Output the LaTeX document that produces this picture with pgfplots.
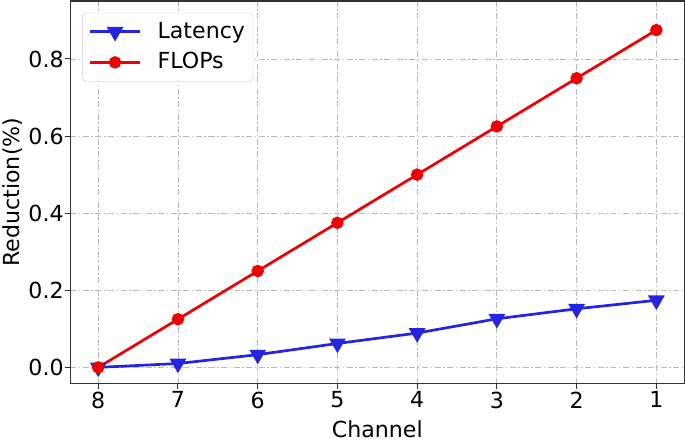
\documentclass[border=0pt]{standalone}
\usepackage{fontspec}
\setmainfont{DejaVu Sans}
\usepackage{pgfplots}
\pgfplotsset{compat=1.18}
\definecolor{mblue}{RGB}{36,36,226}
\definecolor{mred}{RGB}{240,0,0}
\begin{document}
\fontsize{22}{26}\selectfont
\begin{tikzpicture}
\begin{axis}[
  scale only axis,
  width=611pt, height=381pt,
  xmin=-0.35, xmax=7.35,
  ymin=-0.042, ymax=0.951,
  xtick={0,1,2,3,4,5,6,7},
  xticklabels={8,7,6,5,4,3,2,1},
  ytick={0,0.2,0.4,0.6,0.8},
  yticklabel style={/pgf/number format/.cd,fixed,fixed zerofill,precision=1,/tikz/.cd,inner xsep=1.5pt},
  /pgf/number format/assume math mode=true,
  tick style={black!80, line width=1pt},
  major tick length=5pt,
  tick align=outside,
  xtick pos=bottom, ytick pos=left,
  axis line style={black!80, line width=1.5pt},
  grid=major,
  major grid style={gray!55, line width=0.9pt, dash pattern=on 6pt off 2.5pt on 1.5pt off 2.5pt},
  xlabel={Channel},
  ylabel={Reduction(\%)},
  xticklabel style={inner ysep=3pt},
  xlabel style={inner ysep=4pt, yshift=-5pt},
  ylabel style={inner ysep=3pt, yshift=1pt},
  tick label style={font=\fontsize{22}{26}\selectfont},
  label style={font=\fontsize{22}{26}\selectfont},
  legend style={at={(0.0196,0.9685)}, anchor=north west, draw=black!20, rounded corners=4pt,
    font=\fontsize{22}{26}\selectfont, inner xsep=6pt, inner ysep=7pt, row sep=7pt,
    column sep=14pt},
  legend cell align=left,
  legend image code/.code={
    \draw[#1, line width=2.7pt] (0pt,0pt) -- (50pt,0pt);
    \draw[#1, only marks] plot coordinates {(25pt,0pt)};
  },
]
\addplot[mblue, line width=2.7pt, mark=triangle*, mark size=7pt, mark options={rotate=180, solid}]
  coordinates {(0,0.000) (1,0.010) (2,0.033) (3,0.062) (4,0.089) (5,0.126) (6,0.152) (7,0.174)};
\addlegendentry{Latency}
\addplot[mred, line width=2.7pt, mark=*, mark size=4.8pt, mark options={solid}]
  coordinates {(0,0.000) (1,0.125) (2,0.250) (3,0.375) (4,0.500) (5,0.625) (6,0.750) (7,0.875)};
\addlegendentry{FLOPs}
\end{axis}
\end{tikzpicture}
\end{document}
